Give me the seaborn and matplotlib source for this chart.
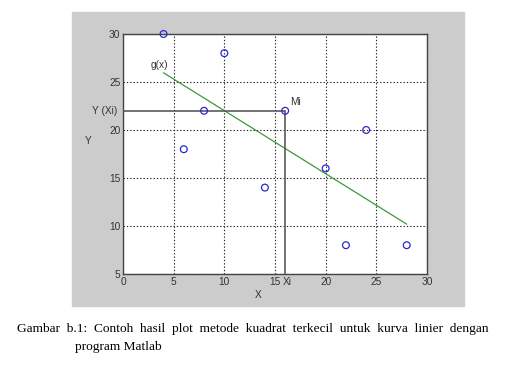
import numpy as np
import pandas as pd
import matplotlib
matplotlib.use("Agg")
import matplotlib.pyplot as plt
import seaborn as sb

# data points
x_vals = [4, 6, 8, 10, 14, 16, 20, 22, 24, 28]
y_vals = [30, 18, 22, 28, 14, 22, 16, 8, 20, 8]
xi, yxi = 16, 22
x_ticks = [0, 5, 10, 15, 20, 25, 30]
y_ticks = [5, 10, 15, 20, 25, 30]

df = pd.DataFrame({"X": x_vals, "Y": y_vals})

sb.set_style("white")
plt.rcParams['font.family'] = ['Liberation Sans', 'DejaVu Sans']

fig = plt.figure(figsize=(5.19, 3.68), dpi=100)
fig.patch.set_facecolor("white")
# matlab grey figure panel
fig.patches.append(plt.Rectangle((72/519, 1-306/368), 392/519, 294/368,
                                 transform=fig.transFigure, color="#cccccc", zorder=-5))

ax = fig.add_axes([123/519, 1-274/368, 304/519, 240/368])
ax.set_facecolor("white")

sb.regplot(data=df, x="X", y="Y", scatter=False, ci=None, ax=ax,
           line_kws={"color": "#3a9a3a", "lw": 0.9})
ax.plot([0, xi], [yxi, yxi], color="#5a5a5a", lw=1.2, zorder=3)
ax.plot([xi, xi], [5, yxi], color="#5a5a5a", lw=1.2, zorder=3)
sb.scatterplot(data=df, x="X", y="Y", ax=ax, marker="o", s=24,
               fc="none", ec="#2828d0", linewidth=0.9, zorder=4, clip_on=False)

ax.set_xlim(0, 30)
ax.set_ylim(5, 30)
ax.set_xticks(x_ticks)
ax.set_yticks(y_ticks)
ax.grid(True, color="#222222", ls=(0, (1.2, 1.8)), lw=0.8)
ax.tick_params(direction="in", length=3, labelsize=7.3, colors="#333333", pad=2)
for s in ax.spines.values():
    s.set_color("#444444")
    s.set_linewidth(1.0)
ax.set_xlabel("")
ax.set_ylabel("")

ax.text(3.6, 26.3, "g(x)", fontsize=7.3, color="#333333", ha="center", va="bottom")
ax.text(16.5, 22.4, "Mi", fontsize=7.3, color="#333333", ha="left", va="bottom")
ax.text(-0.6, yxi, "Y (Xi)", fontsize=7.3, color="#333333", ha="right", va="center")
ax.text(16.25, 4.7, "Xi", fontsize=7.3, color="#333333", ha="center", va="top")
fig.text(258/519, 1-295/368, "X", fontsize=7.3, color="#333333", ha="center", va="center")
fig.text(88/519, 1-141/368, "Y", fontsize=7.3, color="#333333", ha="center", va="center")

cap = dict(family=["Liberation Serif", "DejaVu Serif"], fontsize=9.6, color="black")
fig.text(17/519, 1-329/368,
         "Gambar  b.1:  Contoh  hasil  plot  metode  kuadrat  terkecil  untuk  kurva  linier  dengan",
         ha="left", va="center", **cap)
fig.text(75/519, 1-347/368, "program Matlab", ha="left", va="center", **cap)

fig.savefig("out.png", dpi=100)
